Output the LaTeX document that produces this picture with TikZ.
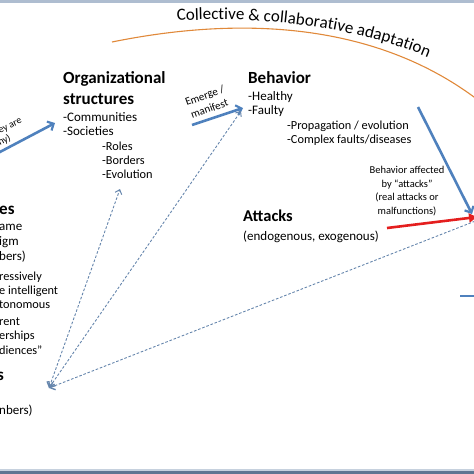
\documentclass[tikz,border=0pt]{standalone}
\usepackage{fontspec}
\setmainfont{Carlito}
\usetikzlibrary{arrows.meta,positioning,calc,decorations.text}

\definecolor{flowblue}{HTML}{4F81BD}
\definecolor{attackred}{HTML}{E41E1E}
\definecolor{linkgray}{HTML}{6585AC}
\definecolor{arcorange}{HTML}{E0893A}
\definecolor{bandlight}{HTML}{AEBDD0}
\definecolor{banddark}{HTML}{5F7591}

\begin{document}
\begin{tikzpicture}[
    x=1pt, y=-1pt,
    inner sep=0pt,
    heading/.style={font=\fontsize{17}{21}\selectfont\bfseries, align=left, anchor=north west},
    items/.style={font=\fontsize{13}{14.5}\selectfont, align=left, anchor=north west},
    subitems/.style={font=\fontsize{12.3}{14}\selectfont, align=left, anchor=north west},
    note/.style={font=\fontsize{10.5}{13.8}\selectfont, align=center},
    tilted/.style={font=\fontsize{11}{14}\selectfont, align=center},
    flow/.style={flowblue, line width=2.6pt, -{Straight Barb[length=5pt,width=10pt,line width=2.2pt]}},
    hit/.style={attackred, line width=2.6pt, -{Triangle[length=8pt,width=9pt]}},
    relation/.style={linkgray, line width=0.9pt, dash pattern=on 2.6pt off 1.8pt},
    tip/.style={{Straight Barb[length=4.5pt,width=8pt,line width=1.4pt]}-{Straight Barb[length=4pt,width=7pt,line width=1pt]}},
    arc/.style={arcorange, line width=1.1pt}
]

\useasboundingbox (0,0) rectangle (474,474);
\clip (0,0) rectangle (474,474);

% Frame bands
\fill[bandlight] (0,0) rectangle (474,2.5);
\fill[bandlight!70] (0,468.5) rectangle (474,470.5);
\fill[banddark] (0,470.5) rectangle (474,474);

% =====================================================
% ADAPTATION ARC
% =====================================================

\draw[arc] (112,42) .. controls (230,18) and (370,18) .. (478,100);
\path[decorate, decoration={text along path, text align=left,
    text={|\fontsize{17}{19}\selectfont|Collective {\&} collaborative adaptation}}]
    (177,21) .. controls (265,15) and (375,28) .. (455,70);

% =====================================================
% ORGANIZATIONAL STRUCTURES / BEHAVIOR
% =====================================================

\node[heading] (org) at (63,71) {Organizational\\structures};
\node[items] (orgList) at (63,112) {-Communities\\-Societies};
\node[subitems] (orgSub) at (102,142) {-Roles\\-Borders\\-Evolution};

\node[heading] (beh) at (248,71) {Behavior};
\node[items] (behList) at (248,91) {-Healthy\\-Faulty};
\node[subitems] (behSub) at (287,121) {-Propagation / evolution\\-Complex faults/diseases};

\node[tilted, rotate=20] (emerge) at (207,102) {Emerge /\\manifest};

% =====================================================
% ATTACKS
% =====================================================

\node[heading, font=\fontsize{16.5}{18}\selectfont\bfseries] (att) at (243,210) {Attacks};
\node[items] (attNote) at (243,231) {(endogenous, exogenous)};
\node[note] (affNote) at (407,191) {Behavior affected\\by “attacks”\\(real attacks or\\malfunctions)};

% =====================================================
% LEFT COLUMN (cut by the frame)
% =====================================================

\node[tilted, font=\fontsize{10}{12}\selectfont, rotate=27, anchor=base west] (cutA) at (0,134) {ey are};
\node[tilted, font=\fontsize{10}{12}\selectfont, rotate=27, anchor=base west] (cutB) at (0,145.5) {ny)};

\node[heading, anchor=west] (cutHead) at (-1,210) {es};
\foreach \txt/\yy [count=\i] in {ame/227, igm/242, bers)/257}
    \node[items, anchor=west] (cutItem\i) at (-1,\yy) {\txt};
\foreach \txt/\yy [count=\i] in {ressively/277, e intelligent/291, tonomous/305, rent/322, erships /336, diences”/350}
    \node[subitems, anchor=west] (cutSub\i) at (-1,\yy) {\txt};
\node[heading, anchor=east] (cutMark) at (4,376) {s};
\node[items, anchor=west] (cutEnd) at (-1,411) {nbers)};

% =====================================================
% CONNECTORS
% =====================================================

\coordinate (inStart) at (-2,153);
\coordinate (inEnd) at (55,123);
\coordinate (emStart) at (192,125);
\coordinate (emEnd) at (243,108);
\coordinate (affStart) at (418,107);
\coordinate (affEnd) at (472,214);
\coordinate (attStart) at (387,228);
\coordinate (attEnd) at (477,217);
\coordinate (hub) at (49,388);
\coordinate (evoTip) at (120,189);
\coordinate (behTip) at (241,111);
\coordinate (rightTip) at (478,220);
\coordinate (outStart) at (460,296);
\coordinate (outEnd) at (478,296);

\draw[flow] (inStart) -- (inEnd);
\draw[flow] (emStart) -- (emEnd);
\draw[flow] (affStart) -- (affEnd);
\draw[hit] (attStart) -- (attEnd);
\draw[flowblue, line width=2.6pt] (outStart) -- (outEnd);

\draw[relation, tip] (hub) -- (evoTip);
\draw[relation, tip] (hub) -- (behTip);
\draw[relation, {Straight Barb[length=4.5pt,width=8pt,line width=1.4pt]}-] (hub) -- (rightTip);

\end{tikzpicture}
\end{document}
